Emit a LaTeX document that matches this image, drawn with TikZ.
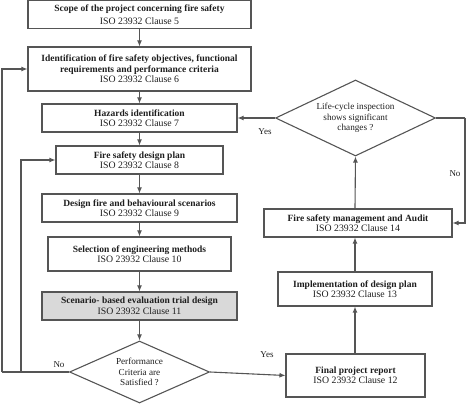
\documentclass[tikz,border=0pt]{standalone}
\usepackage{fontspec}
\setmainfont{Liberation Serif}
\usetikzlibrary{shapes.geometric,arrows.meta}
\definecolor{ln}{HTML}{555555}
\definecolor{tx}{HTML}{1E1E1E}
\definecolor{shade}{HTML}{D9D9D9}
\newcommand{\hd}[1]{{\fontsize{9.5}{10.5}\selectfont\bfseries #1}}
\newcommand{\cl}[1]{{\fontsize{9.8}{10.5}\selectfont #1}}
\tikzset{
  box/.style={draw=ln, line width=1.1pt, rectangle, inner sep=0pt, align=center,
    text=tx, font=\fontsize{9.5}{10.5}\selectfont},
  dia/.style={draw=ln, line width=1.1pt, diamond, aspect=2, inner sep=0pt, align=center,
    text=tx, font=\fontsize{9.2}{10.5}\selectfont},
  arr/.style={draw=ln, line width=1.1pt, -{Latex[length=6pt,width=5pt]}},
  lnk/.style={draw=ln, line width=1.1pt},
  lbl/.style={text=tx, font=\fontsize{9}{10.5}\selectfont, inner sep=0pt}
}
\begin{document}
\begin{tikzpicture}[x=1pt,y=-1pt]
\useasboundingbox (0,0) rectangle (467,404);
% left column
\node[box, minimum width=223, minimum height=28] (b1) at (139.5,14.5)
  {\hd{Scope of the project concerning fire safety}\\[3pt] \cl{ISO 23932 Clause 5}};
\node[box, minimum width=223, minimum height=44] (b2) at (139.5,69)
  {\hd{Identification of fire safety objectives, functional}\\ \hd{requirements and performance criteria}\\ \cl{ISO 23932 Clause 6}};
\node[box, minimum width=195, minimum height=28] (b3) at (139.5,118)
  {\hd{Hazards identification}\\ \cl{ISO 23932 Clause 7}};
\node[box, minimum width=167, minimum height=28] (b4) at (139.5,160)
  {\hd{Fire safety design plan}\\ \cl{ISO 23932 Clause 8}};
\node[box, minimum width=195, minimum height=28] (b5) at (139.5,208)
  {\hd{Design fire and behavioural scenarios}\\ \cl{ISO 23932 Clause 9}};
\node[box, minimum width=183, minimum height=34] (b6) at (139.5,254)
  {\hd{Selection of engineering methods}\\ \cl{ISO 23932 Clause 10}};
\node[box, fill=shade, minimum width=195, minimum height=28] (b7) at (139.5,306)
  {\hd{Scenario- based evaluation trial design}\\ \cl{ISO 23932 Clause 11}};
\node[dia, minimum width=140, minimum height=62] (d1) at (139.5,372)
  {Performance\\ Criteria are\\ Satisfied ?};
% right column
\node[box, minimum width=139, minimum height=43] (b8) at (355.5,375.5)
  {\hd{Final project report}\\ \cl{ISO 23932 Clause 12}};
\node[box, minimum width=154, minimum height=34] (b9) at (355,289)
  {\hd{Implementation of design plan}\\ \cl{ISO 23932 Clause 13}};
\node[box, minimum width=188, minimum height=28] (b10) at (358,223)
  {\hd{Fire safety management and Audit}\\ \cl{ISO 23932 Clause 14}};
\node[dia, minimum width=160, minimum height=76] (d2) at (355.5,118)
  {Life-cycle inspection\\ shows significant\\ changes ?};
% coordinates
\coordinate (lo) at (2,372);
\coordinate (li) at (21,372);
\coordinate (ro) at (465,118);
% vertical chain
\draw[arr] (b1) -- (b2);
\draw[arr] (b2) -- (b3);
\draw[arr] (b3) -- (b4);
\draw[arr] (b4) -- (b5);
\draw[arr] (b5) -- (b6);
\draw[arr] (b6) -- (b7);
\draw[arr] (b7) -- (d1);
% No loop on the left
\draw[lnk] (d1.west) -- (lo);
\draw[arr] (lo) |- (b2.west);
\draw[arr] (li) |- (b4.west);
\node[lbl] (nol) at (59,365) {No};
% Yes to final report
\draw[arr] (d1.east) -- (b8.west);
\node[lbl] (yesr) at (267,355) {Yes};
% right column upward
\draw[arr] (b8.north -| b9) -- (b9.south);
\draw[arr] (b9.north) -- (b9.north |- b10.south);
\draw[arr] (b9.north |- b10.north) -- (d2.south);
% life-cycle decisions
\draw[arr] (d2.west) -- (d2.west -| b3.east);
\node[lbl] (yest) at (265,132) {Yes};
\draw[lnk] (d2.east) -- (ro);
\draw[arr] (ro) |- (b10.east);
\node[lbl] (nor) at (455,174) {No};
\end{tikzpicture}
\end{document}
